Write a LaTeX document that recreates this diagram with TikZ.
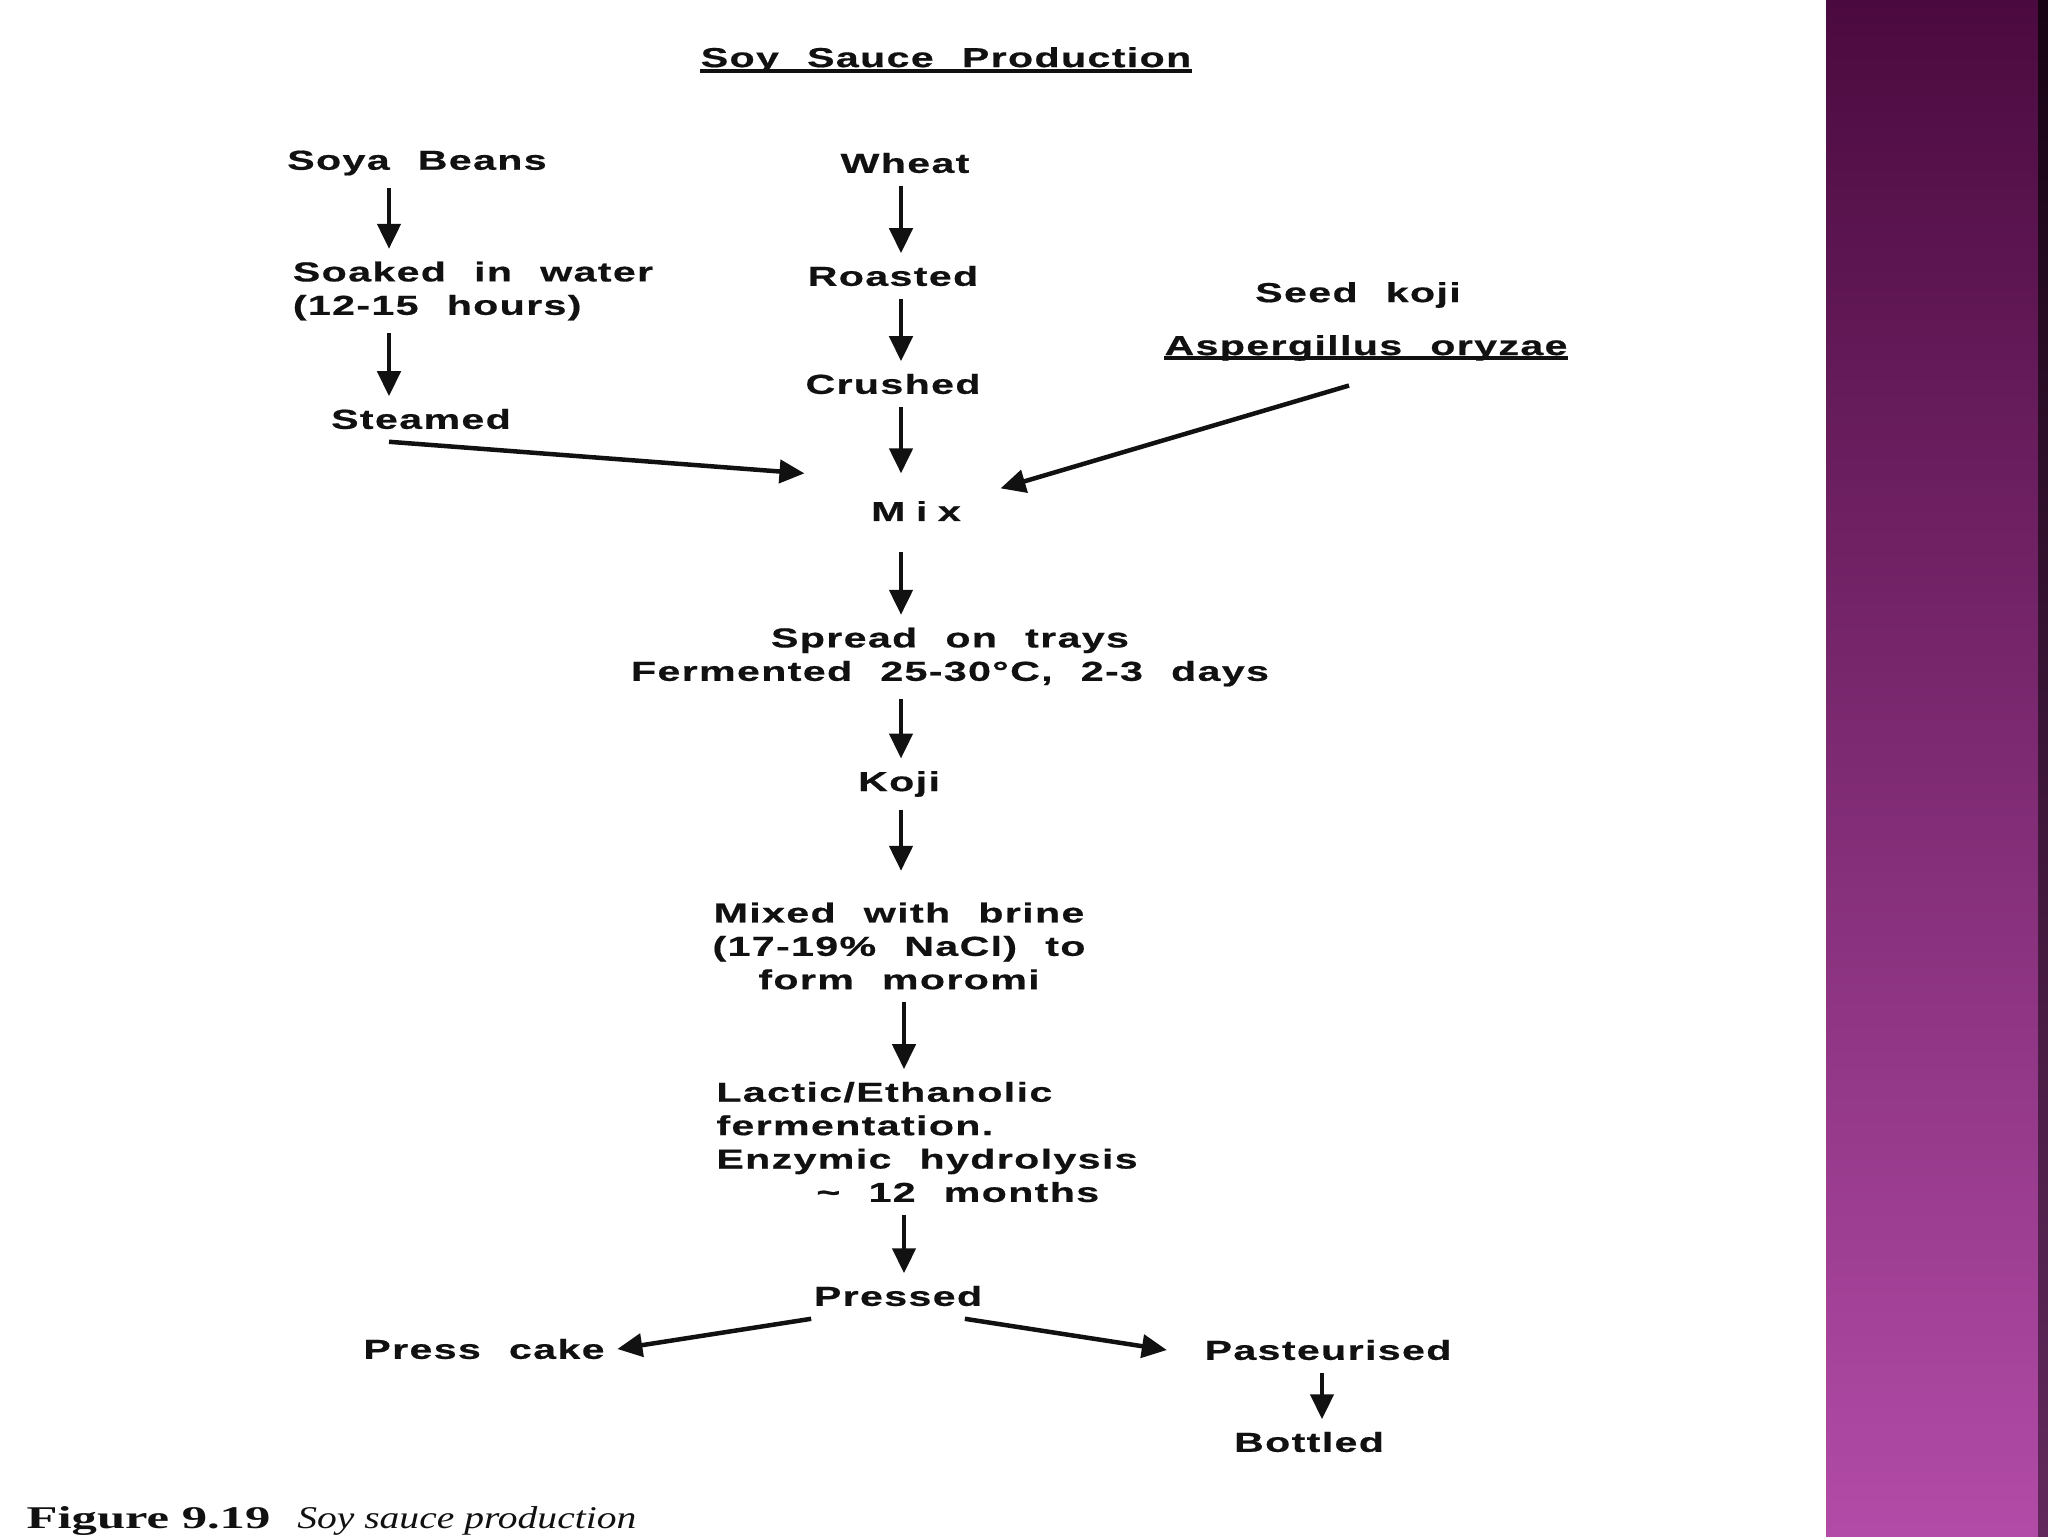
\documentclass[tikz,border=0pt]{standalone}
\usepackage{fontspec}
\setmainfont{Liberation Sans}
\newfontfamily\flowfont[FakeStretch=1.5,FakeBold=0.6,LetterSpace=5,WordSpace=2.2]{Liberation Sans}
\newfontfamily\capboldfont[FakeStretch=1.6]{Liberation Serif}
\newfontfamily\capitfont[FakeStretch=1.25]{Liberation Serif}
\usetikzlibrary{
  arrows.meta,
  positioning
}
\definecolor{slidedark}{HTML}{4B0A3F}
\definecolor{slidelight}{HTML}{B24BA7}
\definecolor{inkblack}{HTML}{111111}

\begin{document}
\begin{tikzpicture}[
  x=1mm, y=1mm, on grid,
  stage/.style={font=\flowfont\bfseries\fontsize{7.8}{9.5}\selectfont,
    text=inkblack, inner sep=1.2mm},
  arrow/.style={-{Triangle[length=2.5mm, width=2.3mm]}, line width=0.45mm,
    draw=inkblack},
  uline/.style={line width=0.35mm, draw=inkblack}
]

  % page and slide bar
  \useasboundingbox (0,0) rectangle (204.8,-153.6);
  \fill[white] (0,0) rectangle (182.6,-153.6);
  \shade[top color=slidedark, bottom color=slidelight]
    (182.6,0) rectangle (204.8,-153.6);
  \shade[top color=black!70!slidedark, bottom color=black!45!slidelight]
    (203.8,0) rectangle (204.8,-153.6);

  \node[stage] (title) at (94.6,-6.0) {Soy Sauce Production};
  \draw[uline] ([shift={(1.2mm,-0.4mm)}]title.base west)
    -- ([shift={(-1.2mm,-0.4mm)}]title.base east);

  % raw materials
  \node[stage, below left=10.3mm and 4.1mm of title] (wheat) {Wheat};
  \node[stage, left=48.8mm of wheat] (soya) {Soya Beans};
  \node[stage, align=left, below right=12.8mm and 5.6mm of soya] (soaked)
    {Soaked in water\\(12-15 hours)};
  \node[stage, below left=12.8mm and 5.2mm of soaked] (steamed) {Steamed};
  \node[stage, below left=11.3mm and 1.2mm of wheat] (roasted) {Roasted};
  \node[stage, below=10.8mm of roasted] (crushed) {Crushed};
  \node[stage, below right=1.9mm and 46.5mm of roasted] (seed) {Seed koji};
  \node[stage, below right=5.3mm and 0.8mm of seed] (asper) {Aspergillus oryzae};
  \draw[uline] ([shift={(1.2mm,-0.3mm)}]asper.base west)
    -- ([shift={(-1.2mm,-0.3mm)}]asper.base east);

  % main line
  \node[stage, below right=12.7mm and 2.3mm of crushed] (mix)
    {M\kern3pt i\kern3pt x};
  \node[stage, align=center, below right=14.6mm and 3.4mm of mix] (spread)
    {Spread on trays\\Fermented 25-30°C, 2-3 days};
  \node[stage, below left=12.7mm and 5.1mm of spread] (koji) {Koji};
  \node[stage, align=center, below=16.2mm of koji] (brine)
    {Mixed with brine\\(17-19\% NaCl) to\\form moromi};
  \node[stage, align=left, below right=19.6mm and 2.8mm of brine] (lactic)
    {Lactic/Ethanolic\\fermentation.\\Enzymic hydrolysis\\
     \hspace*{10mm}\textasciitilde{} 12 months};
  \node[stage, below left=15.4mm and 2.9mm of lactic] (pressed) {Pressed};
  \node[stage, below left=5.3mm and 41.4mm of pressed] (cake) {Press cake};
  \node[stage, below right=5.4mm and 43mm of pressed] (past) {Pasteurised};
  \node[stage, below left=9.2mm and 1.9mm of past] (bottled) {Bottled};

  \node[anchor=base west, inner sep=0, text=inkblack,
    font=\fontsize{9}{11}\selectfont] (caption) at (2.6,-152.8)
    {{\capboldfont\bfseries Figure 9.19}\hspace{2.7mm}{\capitfont\itshape Soy sauce production}};

  % arrow lanes
  \coordinate (leftlane) at (38.9,0);
  \coordinate (midlane) at (90.1,0);
  \coordinate (rightlane) at (132.2,0);

  \draw[arrow] (soya.south -| leftlane) -- (soaked.north -| leftlane);
  \draw[arrow] (soaked.south -| leftlane) -- (steamed.north -| leftlane);
  \draw[arrow] (wheat.south -| midlane) -- (roasted.north -| midlane);
  \draw[arrow] (roasted.south -| midlane) -- (crushed.north -| midlane);
  \draw[arrow, shorten >=1.5mm] (crushed.south -| midlane) -- (mix.north -| midlane);
  \draw[arrow] (steamed.south -| leftlane)
    -- ([shift={(-5.4mm,1.5mm)}]mix.north west);
  \draw[arrow] ([shift={(-1.7mm,-1.2mm)}]asper.south)
    -- ([xshift=2.7mm]mix.north east);
  \draw[arrow, shorten <=1.8mm] (mix.south -| midlane) -- (spread.north -| midlane);
  \draw[arrow] (spread.south -| midlane) -- (koji.north -| midlane);
  \draw[arrow, shorten >=1.9mm] (koji.south -| midlane) -- (brine.north -| midlane);
  \draw[arrow] ([xshift=0.3mm]brine.south -| midlane)
    -- ([xshift=0.3mm]lactic.north -| midlane);
  \draw[arrow] ([xshift=0.3mm]lactic.south -| midlane)
    -- ([xshift=0.3mm]pressed.north -| midlane);
  \draw[arrow] ([xshift=1mm]pressed.south west) -- (cake.east);
  \draw[arrow] ([xshift=-3mm]pressed.south east) -- ([xshift=-2.5mm]past.west);
  \draw[arrow] (past.south -| rightlane) -- (bottled.north -| rightlane);

\end{tikzpicture}
\end{document}
